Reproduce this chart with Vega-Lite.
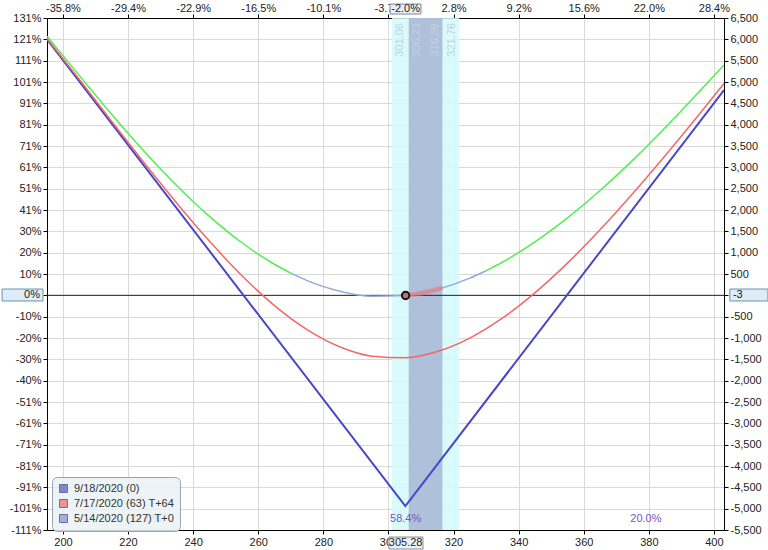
{
  "$schema": "https://vega.github.io/schema/vega-lite/v6.json",
  "width": 677,
  "height": 512,
  "autosize": {"type": "none"},
  "padding": {"left": 47, "top": 18, "right": 44, "bottom": 20},
  "background": "white",
  "config": {
    "view": {"stroke": null},
    "font": "Liberation Sans",
    "axis": {
      "labelFont": "Liberation Sans",
      "labelFontSize": 11,
      "labelColor": "#222",
      "domainColor": "#000",
      "tickColor": "#000",
      "tickSize": 4,
      "labelPadding": 2,
      "gridColor": "#d9d9d9",
      "gridWidth": 1,
      "title": null
    }
  },
  "datasets": {
    "curves": [
      {"S": 195.1, "pl": 6000, "seg": "exp"},
      {"S": 305.2, "pl": -4940, "seg": "exp"},
      {"S": 403.1, "pl": 4810, "seg": "exp"},
      {"S": 195.1, "pl": 6020, "seg": "t64"},
      {"S": 205, "pl": 5064, "seg": "t64"},
      {"S": 215, "pl": 4076, "seg": "t64"},
      {"S": 225, "pl": 3103, "seg": "t64"},
      {"S": 235, "pl": 2160, "seg": "t64"},
      {"S": 245, "pl": 1271, "seg": "t64"},
      {"S": 255, "pl": 460, "seg": "t64"},
      {"S": 265, "pl": -242, "seg": "t64"},
      {"S": 275, "pl": -805, "seg": "t64"},
      {"S": 285, "pl": -1206, "seg": "t64"},
      {"S": 295, "pl": -1427, "seg": "t64"},
      {"S": 305, "pl": -1463, "seg": "t64"},
      {"S": 315, "pl": -1316, "seg": "t64"},
      {"S": 325, "pl": -1001, "seg": "t64"},
      {"S": 335, "pl": -536, "seg": "t64"},
      {"S": 345, "pl": 57, "seg": "t64"},
      {"S": 355, "pl": 754, "seg": "t64"},
      {"S": 365, "pl": 1535, "seg": "t64"},
      {"S": 375, "pl": 2381, "seg": "t64"},
      {"S": 385, "pl": 3272, "seg": "t64"},
      {"S": 395, "pl": 4197, "seg": "t64"},
      {"S": 403.1, "pl": 4965, "seg": "t64"},
      {"S": 195.1, "pl": 6070, "seg": "t0a"},
      {"S": 205, "pl": 5155, "seg": "t0a"},
      {"S": 215, "pl": 4239, "seg": "t0a"},
      {"S": 225, "pl": 3371, "seg": "t0a"},
      {"S": 235, "pl": 2570, "seg": "t0a"},
      {"S": 245, "pl": 1851, "seg": "t0a"},
      {"S": 255, "pl": 1232, "seg": "t0a"},
      {"S": 265, "pl": 728, "seg": "t0a"},
      {"S": 270, "pl": 520, "seg": "t0a"},
      {"S": 270, "pl": 520, "seg": "t0b"},
      {"S": 275, "pl": 346, "seg": "t0b"},
      {"S": 285, "pl": 96, "seg": "t0b"},
      {"S": 295, "pl": -21, "seg": "t0b"},
      {"S": 305, "pl": -6, "seg": "t0b"},
      {"S": 315, "pl": 138, "seg": "t0b"},
      {"S": 325, "pl": 402, "seg": "t0b"},
      {"S": 330, "pl": 577, "seg": "t0b"},
      {"S": 330, "pl": 577, "seg": "t0c"},
      {"S": 335, "pl": 777, "seg": "t0c"},
      {"S": 345, "pl": 1252, "seg": "t0c"},
      {"S": 355, "pl": 1815, "seg": "t0c"},
      {"S": 365, "pl": 2456, "seg": "t0c"},
      {"S": 375, "pl": 3163, "seg": "t0c"},
      {"S": 385, "pl": 3927, "seg": "t0c"},
      {"S": 395, "pl": 4736, "seg": "t0c"},
      {"S": 403.1, "pl": 5400, "seg": "t0c"},
      {"S": 305.28, "pl": -3, "seg": "now"},
      {"S": 308, "pl": 25, "seg": "now"},
      {"S": 310, "pl": 51, "seg": "now"},
      {"S": 313, "pl": 100, "seg": "now"},
      {"S": 316.59, "pl": 173, "seg": "now"}
    ],
    "bands": [
      {"lo": 301.06, "hi": 321.76, "kind": "outer"},
      {"lo": 306.23, "hi": 316.59, "kind": "inner"}
    ],
    "bandlabels": [
      {"S": 301.06, "txt": "301.06", "side": "L"},
      {"S": 306.23, "txt": "306.23", "side": "L"},
      {"S": 316.59, "txt": "316.59", "side": "R"},
      {"S": 321.76, "txt": "321.76", "side": "R"}
    ],
    "notes": [
      {"S": 225.5, "txt": "21.6%"},
      {"S": 305.28, "txt": "58.4%"},
      {"S": 379.1, "txt": "20.0%"}
    ],
    "marker": [{"S": 305.28, "pl": -3}],
    "legend": [
      {"name": "9/18/2020 (0)"},
      {"name": "7/17/2020 (63) T+64"},
      {"name": "5/14/2020 (127) T+0"}
    ]
  },
  "resolve": {"axis": {"x": "independent", "y": "independent"}},
  "layer": [
    {
      "data": {"name": "curves"},
      "mark": {"type": "point", "opacity": 0},
      "encoding": {
        "x": {
          "field": "S", "type": "quantitative",
          "scale": {"domain": [195.1, 403.1], "nice": false, "zero": false},
          "axis": {"orient": "bottom", "values": [200, 220, 240, 260, 280, 300, 320, 340, 360, 380, 400], "format": "d", "grid": true, "tickSize": 4, "labelPadding": 2}
        },
        "y": {
          "field": "pl", "type": "quantitative",
          "scale": {"domain": [-5500, 6500], "nice": false, "zero": false},
          "axis": {
            "orient": "left", "grid": true,
            "values": [-5500, -5000, -4500, -4000, -3500, -3000, -2500, -2000, -1500, -1000, -500, 0, 500, 1000, 1500, 2000, 2500, 3000, 3500, 4000, 4500, 5000, 5500, 6000, 6500],
            "labelExpr": "['-111%','-101%','-91%','-81%','-71%','-61%','-51%','-40%','-30%','-20%','-10%','','10%','20%','30%','41%','51%','61%','71%','81%','91%','101%','111%','121%','131%'][round((datum.value+5500)/500)]"
          }
        }
      }
    },
    {
      "data": {"name": "curves"},
      "mark": {"type": "point", "opacity": 0},
      "encoding": {
        "x": {
          "field": "S", "type": "quantitative",
          "axis": {"orient": "top", "values": [200, 220, 240, 260, 280, 300, 320, 340, 360, 380, 400], "grid": false, "tickSize": 4, "labelPadding": 1,
            "labelExpr": "replace(format((datum.value/311.42-1)*100, '.1f'), '\u2212', '-') + '%'"}
        },
        "y": {
          "field": "pl", "type": "quantitative",
          "axis": {"orient": "right", "grid": false,
            "values": [-5500, -5000, -4500, -4000, -3500, -3000, -2500, -2000, -1500, -1000, -500, 0, 500, 1000, 1500, 2000, 2500, 3000, 3500, 4000, 4500, 5000, 5500, 6000, 6500],
            "labelExpr": "datum.value == 0 ? '' : replace(format(datum.value, ','), '\u2212', '-')"}
        }
      }
    },
    {
      "data": {"name": "bands"},
      "transform": [{"filter": "datum.kind == 'outer'"}],
      "mark": {"type": "rect", "color": "#d4fafb", "opacity": 0.85},
      "encoding": {
        "x": {"field": "lo", "type": "quantitative", "axis": null},
        "x2": {"field": "hi"}
      }
    },
    {
      "data": {"name": "bands"},
      "transform": [{"filter": "datum.kind == 'inner'"}],
      "mark": {"type": "rect", "color": "#aab9d7", "opacity": 0.9},
      "encoding": {
        "x": {"field": "lo", "type": "quantitative", "axis": null},
        "x2": {"field": "hi"}
      }
    },
    {
      "data": {"values": [{}]},
      "mark": {"type": "rule", "color": "#222", "strokeWidth": 1},
      "encoding": {"y": {"datum": 0, "type": "quantitative", "axis": null}}
    },
    {
      "data": {"name": "curves"},
      "transform": [{"filter": "datum.seg == 'exp'"}],
      "mark": {"type": "line", "color": "#4848c8", "strokeWidth": 2, "clip": true},
      "encoding": {
        "x": {"field": "S", "type": "quantitative", "axis": null},
        "y": {"field": "pl", "type": "quantitative", "axis": null}
      }
    },
    {
      "data": {"name": "curves"},
      "transform": [{"filter": "datum.seg == 't64'"}],
      "mark": {"type": "line", "color": "#f26868", "strokeWidth": 1.5, "interpolate": "monotone", "clip": true},
      "encoding": {
        "x": {"field": "S", "type": "quantitative", "axis": null},
        "y": {"field": "pl", "type": "quantitative", "axis": null}
      }
    },
    {
      "data": {"name": "curves"},
      "transform": [{"filter": "datum.seg == 't0a' || datum.seg == 't0c'"}],
      "mark": {"type": "line", "color": "#4ef04e", "strokeWidth": 1.5, "interpolate": "monotone", "clip": true},
      "encoding": {
        "x": {"field": "S", "type": "quantitative", "axis": null},
        "y": {"field": "pl", "type": "quantitative", "axis": null},
        "detail": {"field": "seg"}
      }
    },
    {
      "data": {"name": "curves"},
      "transform": [{"filter": "datum.seg == 't0b'"}],
      "mark": {"type": "line", "color": "#93a9da", "strokeWidth": 1.5, "interpolate": "monotone", "clip": true},
      "encoding": {
        "x": {"field": "S", "type": "quantitative", "axis": null},
        "y": {"field": "pl", "type": "quantitative", "axis": null}
      }
    },
    {
      "data": {"name": "curves"},
      "transform": [{"filter": "datum.seg == 'now'"}],
      "mark": {"type": "line", "color": "#f07878", "strokeWidth": 5, "opacity": 0.6, "interpolate": "monotone", "clip": true},
      "encoding": {
        "x": {"field": "S", "type": "quantitative", "axis": null},
        "y": {"field": "pl", "type": "quantitative", "axis": null}
      }
    },
    {
      "data": {"name": "marker"},
      "mark": {"type": "point", "shape": "circle", "size": 55, "filled": true, "fill": "#c87070", "stroke": "#111", "strokeWidth": 2, "opacity": 1},
      "encoding": {
        "x": {"field": "S", "type": "quantitative", "axis": null},
        "y": {"field": "pl", "type": "quantitative", "axis": null}
      }
    },
    {
      "data": {"name": "bandlabels"},
      "transform": [{"filter": "datum.side == 'L'"}],
      "mark": {"type": "text", "angle": 270, "align": "right", "baseline": "top", "dx": -5, "dy": 2, "fontSize": 11, "font": "Liberation Sans", "color": "#c3d2e3"},
      "encoding": {
        "x": {"field": "S", "type": "quantitative", "axis": null},
        "y": {"datum": 6500, "type": "quantitative", "axis": null},
        "text": {"field": "txt"}
      }
    },
    {
      "data": {"name": "bandlabels"},
      "transform": [{"filter": "datum.side == 'R'"}],
      "mark": {"type": "text", "angle": 270, "align": "right", "baseline": "bottom", "dx": -5, "dy": -2, "fontSize": 11, "font": "Liberation Sans", "color": "#c3d2e3"},
      "encoding": {
        "x": {"field": "S", "type": "quantitative", "axis": null},
        "y": {"datum": 6500, "type": "quantitative", "axis": null},
        "text": {"field": "txt"}
      }
    },
    {
      "data": {"name": "notes"},
      "mark": {"type": "text", "align": "center", "baseline": "middle", "fontSize": 11, "font": "Liberation Sans", "color": "#7556c6"},
      "encoding": {
        "x": {"field": "S", "type": "quantitative", "axis": null},
        "y": {"datum": -5250, "type": "quantitative", "axis": null},
        "text": {"field": "txt"}
      }
    },
    {
      "data": {"values": [{}]},
      "mark": {"type": "rect", "fill": "#e9eef4", "stroke": "#7f8c99", "strokeWidth": 1},
      "encoding": {
        "x": {"datum": 300.5, "type": "quantitative", "axis": null},
        "x2": {"datum": 310.0},
        "y": {"datum": 6593, "type": "quantitative", "axis": null},
        "y2": {"datum": 6827}
      }
    },
    {
      "data": {"values": [{}]},
      "mark": {"type": "rect", "fill": "#eef2f6", "stroke": "#7f8c99", "strokeWidth": 1},
      "encoding": {
        "x": {"datum": 300.17, "type": "quantitative", "axis": null},
        "x2": {"datum": 310.6},
        "y": {"datum": -5665, "type": "quantitative", "axis": null},
        "y2": {"datum": -5946}
      }
    },
    {
      "data": {"values": [{}]},
      "mark": {"type": "rect", "fill": "#dcedf8", "stroke": "#6f8fb0", "strokeWidth": 1},
      "encoding": {
        "x": {"datum": 181.3, "type": "quantitative", "axis": null},
        "x2": {"datum": 193.87},
        "y": {"datum": 148, "type": "quantitative", "axis": null},
        "y2": {"datum": -133}
      }
    },
    {
      "data": {"values": [{}]},
      "mark": {"type": "rect", "fill": "#dcedf8", "stroke": "#6f8fb0", "strokeWidth": 1},
      "encoding": {
        "x": {"datum": 404.9, "type": "quantitative", "axis": null},
        "x2": {"datum": 416.6},
        "y": {"datum": 148, "type": "quantitative", "axis": null},
        "y2": {"datum": -133}
      }
    },
    {
      "data": {"values": [{}]},
      "mark": {"type": "text", "align": "center", "baseline": "middle", "fontSize": 11, "font": "Liberation Sans", "color": "#222", "text": "-2.0%"},
      "encoding": {
        "x": {"datum": 305.28, "type": "quantitative", "axis": null},
        "y": {"datum": 6710, "type": "quantitative", "axis": null}
      }
    },
    {
      "data": {"values": [{}]},
      "mark": {"type": "text", "align": "center", "baseline": "middle", "fontSize": 11, "font": "Liberation Sans", "color": "#222", "text": "305.28"},
      "encoding": {
        "x": {"datum": 305.28, "type": "quantitative", "axis": null},
        "y": {"datum": -5805, "type": "quantitative", "axis": null}
      }
    },
    {
      "data": {"values": [{}]},
      "mark": {"type": "text", "align": "right", "baseline": "middle", "fontSize": 11, "font": "Liberation Sans", "color": "#222", "text": "0%"},
      "encoding": {
        "x": {"datum": 192.95, "type": "quantitative", "axis": null},
        "y": {"datum": 0, "type": "quantitative", "axis": null}
      }
    },
    {
      "data": {"values": [{}]},
      "mark": {"type": "text", "align": "left", "baseline": "middle", "fontSize": 11, "font": "Liberation Sans", "color": "#222", "text": "-3"},
      "encoding": {
        "x": {"datum": 405.85, "type": "quantitative", "axis": null},
        "y": {"datum": 0, "type": "quantitative", "axis": null}
      }
    },
    {
      "data": {"name": "legend"},
      "transform": [{"filter": "datum.name == 'none'"}],
      "mark": {"type": "square", "size": 64, "filled": true},
      "encoding": {
        "color": {
          "field": "name", "type": "nominal",
          "scale": {"domain": ["9/18/2020 (0)", "7/17/2020 (63) T+64", "5/14/2020 (127) T+0"], "range": ["#5454cc", "#f06a6a", "#8f8fd2"]},
          "legend": {
            "orient": "none", "legendX": 5, "legendY": 459, "title": null,
            "fillColor": "rgba(234,242,247,0.85)", "strokeColor": "#9aa4b0", "cornerRadius": 5,
            "padding": 6, "rowPadding": 2, "labelFont": "Liberation Sans", "labelFontSize": 11,
            "labelColor": "#333", "symbolType": "square", "symbolSize": 64,
            "symbolStrokeColor": "#3a3a6a", "symbolStrokeWidth": 1, "labelOffset": 5
          }
        }
      }
    }
  ]
}
